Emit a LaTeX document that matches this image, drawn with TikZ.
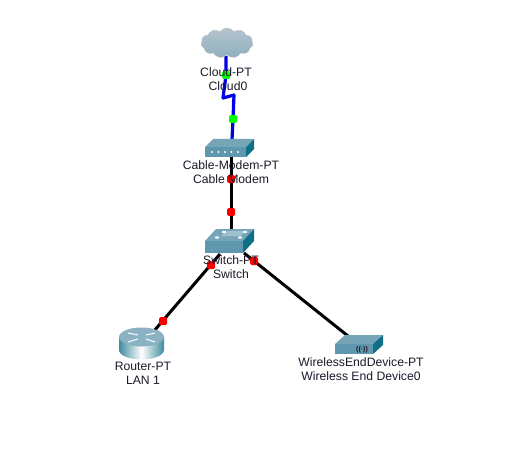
\documentclass[tikz,border=0pt]{standalone}
\usepackage{fontspec}
\setmainfont{Liberation Sans}
\usetikzlibrary{shapes.symbols,backgrounds}
\definecolor{skyblue}{HTML}{5F97AE}
\definecolor{topblue}{HTML}{76A5B8}
\definecolor{sideblue}{HTML}{0F6F86}
\definecolor{labelink}{HTML}{1A1A2A}
\definecolor{cloudlight}{HTML}{B4C4CE}
\definecolor{cloudmid}{HTML}{8FAFBF}
\tikzset{
	cable/.style={line width=3pt,black,line join=round},
	coax/.style={line width=3.2pt,blue!90!black,line join=round},
	reddot/.style={draw=none,fill=red,rounded corners=1.5pt,minimum size=8pt,inner sep=0pt},
	greendot/.style={draw=none,fill=green,rounded corners=1.5pt,minimum size=8pt,inner sep=0pt},
	label/.style={font=\fontsize{12.2}{13}\selectfont,text=labelink,inner sep=0pt},
	topface/.style={fill=topblue},
	frontface/.style={fill=skyblue},
	sideface/.style={fill=sideblue}
}
\begin{document}
\begin{tikzpicture}[x=1pt,y=-1pt]
	\useasboundingbox (0,0) rectangle (522,468);
	%box shaped device: front left x, top y, front width, front height, depth x, depth y
	\newcommand{\boxdevice}[6]{
		\fill [topface] (#1,#2) -- ++(#3,0) -- ++(#5,-#6) -- ++(-#3,0) -- cycle;
		\fill [frontface] (#1,#2) rectangle ++(#3,#4);
		\fill [sideface] (#1+#3,#2) -- ++(#5,-#6) -- ++(0,#4) -- ++(-#5,#6) -- cycle;
	}
	%end points of the links
	\coordinate (cloudport) at (226,56);
	\coordinate (bendone) at (223,98);
	\coordinate (bendtwo) at (234,95);
	\coordinate (modemtop) at (232,140);
	\coordinate (modembottom) at (231,156);
	\coordinate (switchtop) at (231,231);
	\coordinate (switchleft) at (220,254);
	\coordinate (switchright) at (244,253);
	\coordinate (routertop) at (154,331);
	\coordinate (wirelesstop) at (348,336);
	%link dots
	\node [greendot] (clouddot) at (226,75) {};
	\node [greendot] (modemdot) at (233,119) {};
	\node [reddot] (modemred) at (231,179) {};
	\node [reddot] (switchred) at (231,212) {};
	\node [reddot] (switchleftred) at (211,265) {};
	\node [reddot] (routerred) at (163,321) {};
	\node [reddot] (switchrightred) at (254,261) {};
	%links
	\begin{scope}[on background layer]
		\fill [white] (0,0) rectangle (522,468);
		\draw [coax] (cloudport) -- (clouddot.center) -- (bendone) -- (bendtwo) -- (modemdot.center) -- (modemtop);
		\draw [cable] (modembottom) -- (modemred.center) -- (switchred.center) -- (switchtop);
		\draw [cable] (switchleft) -- (routertop);
		\draw [cable] (switchright) -- (wirelesstop);
	\end{scope}
	%cloud
	\node [cloud,cloud puffs=11,cloud puff arc=110,aspect=1.8,minimum width=52pt,minimum height=30pt,inner sep=0pt,
		draw=gray!50,line width=0.3pt,top color=cloudlight,bottom color=cloudmid] (cloud0) at (227,43) {};
	%modem
	\boxdevice{205}{147}{41}{10}{8}{8}
	\foreach \x in {212,218.5,225,231.5,238}
		\fill [white] (\x,152) circle (1.1);
	%switch
	\boxdevice{205}{241}{38}{12}{11}{12}
	\fill [white!30!topblue] (221,236) -- (240,236) -- (246,231) -- (227,231) -- cycle;
	\foreach \x in {217,240}
		\fill [white] (\x,237.5) ellipse (2.2 and 1.2);
	\foreach \x in {224,245}
		\fill [white] (\x,232) ellipse (2.2 and 1.2);
	%router
	\shade [left color=sideblue!80,right color=sideblue!80,middle color=white]
		(119,337) -- (119,350) arc [start angle=180,end angle=0,x radius=22.5,y radius=9.5] -- (164,337) -- cycle;
	\fill [topblue!85!white] (141.5,337) ellipse (22.5 and 9.5);
	\draw [white,line width=1pt] (128,333) -- (138,335) (155,333) -- (146,335) (128,342) -- (138,339) (155,342) -- (146,339);
	%wireless device
	\boxdevice{335}{344}{38}{10}{10}{9}
	\node [font=\fontsize{7}{7}\selectfont\bfseries,text=labelink,inner sep=0pt] (wirelessmark) at (362,349.5) {((·))};
	%labels
	\node [label] (cloudname) at (226,72) {Cloud-PT};
	\node [label] (cloudtag) at (228,86) {Cloud0};
	\node [label] (modemname) at (231,165) {Cable-Modem-PT};
	\node [label] (modemtag) at (231,179) {Cable Modem};
	\node [label] (switchname) at (231,260) {Switch-PT};
	\node [label] (switchtag) at (231,274) {Switch};
	\node [label] (routername) at (143,366) {Router-PT};
	\node [label] (routertag) at (143,380) {LAN 1};
	\node [label] (wirelessname) at (361,362) {WirelessEndDevice-PT};
	\node [label] (wirelesstag) at (361,376) {Wireless End Device0};
\end{tikzpicture}
\end{document}
